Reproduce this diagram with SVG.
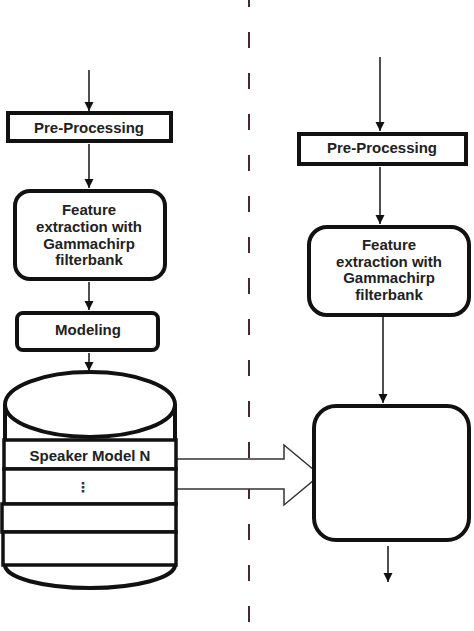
<svg xmlns="http://www.w3.org/2000/svg" width="474" height="631" viewBox="0 0 474 631">
<defs>
<marker id="ah" markerWidth="10" markerHeight="10" refX="9" refY="5" orient="auto" markerUnits="userSpaceOnUse">
<path d="M0,0.5 L9,5 L0,9.5 Z" fill="#111"/>
</marker>
<style>
.box{fill:#fff;stroke:#111;stroke-width:4}
.row{fill:#fff;stroke:#111;stroke-width:3.5}
.t{font-family:"Liberation Sans",Arial,sans-serif;font-weight:bold;font-size:15px;fill:#222;text-anchor:middle;dominant-baseline:central}
.c{stroke:#222;stroke-width:1.6;fill:none}
</style>
</defs>
<rect width="474" height="631" fill="#fff"/>
<line x1="249" y1="0" x2="249" y2="631" stroke="#4a2535" stroke-width="2" stroke-dasharray="16,25" stroke-dashoffset="9"/>
<g id="connectors">
<line class="c" x1="89" y1="70" x2="89" y2="111" marker-end="url(#ah)"/>
<line class="c" x1="89" y1="144" x2="89" y2="188" marker-end="url(#ah)"/>
<line class="c" x1="89" y1="282" x2="89" y2="310" marker-end="url(#ah)"/>
<line class="c" x1="89" y1="353" x2="89" y2="371" marker-end="url(#ah)"/>
<line class="c" x1="380" y1="57" x2="380" y2="131" marker-end="url(#ah)"/>
<line class="c" x1="380" y1="167" x2="380" y2="224" marker-end="url(#ah)"/>
<line class="c" x1="383" y1="317" x2="383" y2="403" marker-end="url(#ah)"/>
<line class="c" x1="388" y1="546" x2="388" y2="582" marker-end="url(#ah)"/>
<path id="bigarrow" d="M177,459 H284 V445 L320,475 L284,505 V489 H177" fill="#fff" stroke="#333" stroke-width="1.5"/>
</g>
<g id="preproc-left">
<rect class="box" x="8" y="113" width="163" height="28"/>
<text class="t" x="89" y="127">Pre-Processing</text>
</g>
<g id="feature-left">
<rect class="box" x="15" y="191" width="150" height="88" rx="15"/>
<text class="t" x="89" y="209">Feature</text>
<text class="t" x="89" y="226">extraction with</text>
<text class="t" x="89" y="243">Gammachirp</text>
<text class="t" x="89" y="259">filterbank</text>
</g>
<g id="modeling">
<rect class="box" x="17" y="313" width="141" height="37" rx="6"/>
<text class="t" x="88" y="329">Modeling</text>
</g>
<g id="database">
<path d="M5,404 V565 A85,23 0 0 0 175,565 V404" fill="#fff" stroke="#111" stroke-width="4"/>
<ellipse cx="90" cy="404.5" rx="85" ry="32.5" fill="#fff" stroke="#111" stroke-width="4"/>
<rect class="row" x="4" y="440" width="172" height="29"/>
<rect class="row" x="4" y="469" width="172" height="35"/>
<rect class="row" x="2" y="504" width="174" height="28"/>
<rect class="row" x="3" y="532" width="173" height="33"/>
<text class="t" x="90" y="455">Speaker Model N</text>
<text class="t" x="83" y="487" style="font-family:'DejaVu Sans',sans-serif;font-size:14px;fill:#333">⋮</text>
</g>
<g id="preproc-right">
<rect class="box" x="299" y="134" width="167" height="30"/>
<text class="t" x="382" y="147">Pre-Processing</text>
</g>
<g id="feature-right">
<rect class="box" x="309" y="227" width="160" height="88" rx="18"/>
<text class="t" x="389" y="244">Feature</text>
<text class="t" x="389" y="261">extraction with</text>
<text class="t" x="389" y="277">Gammachirp</text>
<text class="t" x="389" y="294">filterbank</text>
</g>
<g id="matching">
<rect class="box" x="314" y="406" width="155" height="134" rx="22"/>
</g>
</svg>
